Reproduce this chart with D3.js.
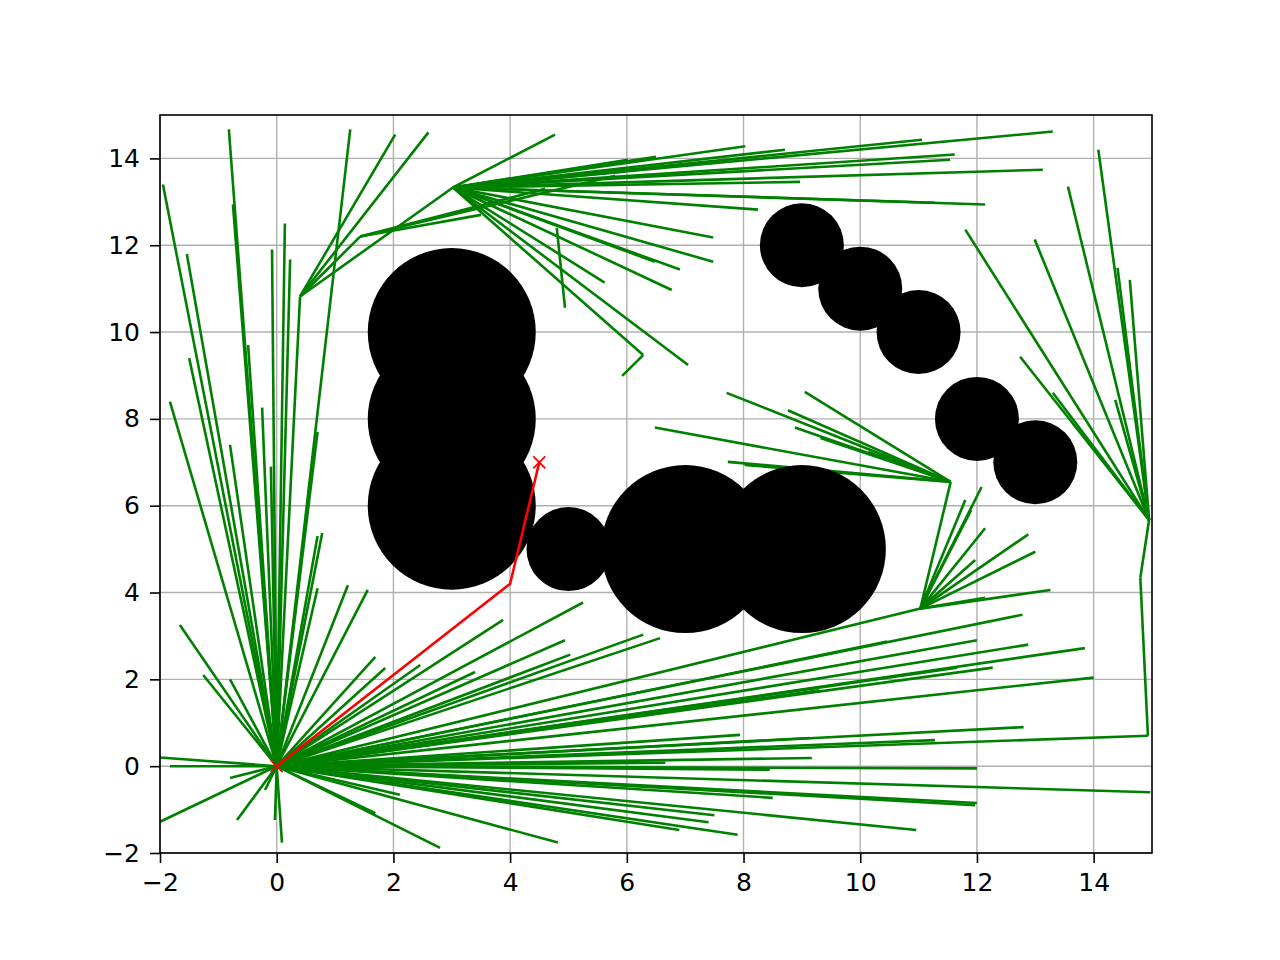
<!DOCTYPE html><html><head><script src="https://cdn.jsdelivr.net/npm/d3@7"></script>
<style>body{margin:0;background:#fff}</style></head><body><svg id="c" width="1280" height="960"></svg>
<script>
const xTicks=[-2,0,2,4,6,8,10,12,14], yTicks=[-2,0,2,4,6,8,10,12,14];
const bigObstacles=[[3,10],[3,8],[3,6],[7,5],[9,5]];
const smallObstacles=[[5,5],[9,12],[10,11],[11,10],[12,8],[13,7]];
const path=[[0,0],[4,4.2],[4.5,7]];
const origin=[0,0], nA=[11.03,3.63], nB=[11.55,6.55], nC=[0.4,10.82], nD=[3.02,13.33], nE=[1.43,12.2], nF=[14.95,5.67], nG=[14.93,0.7], nH=[14.8,4.34];
const fromOrigin=[[-0.82,14.67],[-0.75,12.94],[-0.08,11.9],[0.14,12.5],[0.23,11.67],[-0.49,9.7],[-0.25,8.26],[-0.8,7.4],[0.7,7.7],[-0.1,6.9],[1.26,14.67],
[-1.95,13.4],[-1.54,11.8],[-1.83,8.4],[-1.5,9.4],[-1.66,3.25],[-1.26,2.1],[-0.8,2.0],[-2,0.2],[-1.83,0],[-0.8,-0.27],[-2,-1.28],[-0.68,-1.24],[-0.2,-0.55],[-0.03,-1.24],[0.09,-1.76],
[0.7,5.3],[0.78,5.37],[0.7,4.1],[1.22,4.17],[1.56,4.06],[1.69,2.52],[1.86,2.26],[2.46,2.33],[3.88,3.37],[5.25,3.77],[4.94,2.9],[5.03,2.57],[6.28,3.03],[6.57,2.95],[3.4,2.17],[9.3,1.75],
[7.94,0.72],[9.14,0.65],[12,-0.05],[8.45,-0.08],[9.17,0.19],[6.66,0.08],[11.28,0.6],[14.97,-0.6],[12,-0.85],[11.97,-0.9],[10.96,-1.47],[7.9,-1.58],[8.5,-0.73],[7.5,-1.13],[6.9,-1.47],[4.82,-1.76],[2.8,-1.88],[2.11,-0.66],[1.69,-1.08],[7.4,-1.29],
[14,2.04],[13.85,2.72],[12.88,2.8],[12.27,2.27],[12,2.9],[12.78,3.49],[10.46,2.87],[11.66,2.27],[12.8,0.9],nG,nA,nC];
const fromA=[nB,[11.8,6.13],[11.9,5.9],[12.08,6.43],[12.14,5.48],[11.97,4.75],[12.88,5.34],[13,4.94],[13.26,4.06],[12.14,3.88]];
const fromB=[[7.71,8.6],[9.05,8.62],[8.76,8.2],[8.88,7.8],[6.48,7.8],[7.73,7.01],[8.02,6.94],[10.14,7.24],[9.32,7.56]];
const fromC=[nE,nD,[2.03,14.55],[2.6,14.6]];
const fromD=[[4.77,14.55],[6.5,14.04],[6.02,13.97],[5.97,13.7],[8.03,14.28],[8.71,14.2],[13.3,14.62],[11.62,14.09],[11.54,13.97],[11.06,14.43],[13.13,13.74],[8.97,13.46],[11.28,12.98],[12.14,12.94],[8.25,12.82],[7.48,12.18],[7.48,11.62],[6.91,11.44],[6.48,11.62],[6.77,10.97],[5.62,11.14],[7.05,9.24],[6.28,9.47]];
const fromE=[[3.5,12.7],[4.6,13.3],[5.8,13.6]];
const extra=[[4.8,12.4,4.94,10.56],[6.28,9.47,5.92,8.99],[14.93,0.7,14.8,4.34],[14.8,4.34,14.95,5.67]];
const fromF=[[14.08,14.2],[13.56,13.35],[12.99,12.13],[14.41,11.48],[14.62,11.2],[14.37,8.44],[13.3,8.6],[12.74,9.43],[11.8,12.36]];

const edges=[];
fromOrigin.forEach(p=>edges.push([0,0,p[0],p[1]]));
fromA.forEach(p=>edges.push([nA[0],nA[1],p[0],p[1]]));
fromB.forEach(p=>edges.push([nB[0],nB[1],p[0],p[1]]));
fromC.forEach(p=>edges.push([nC[0],nC[1],p[0],p[1]]));
fromD.forEach(p=>edges.push([nD[0],nD[1],p[0],p[1]]));
fromE.forEach(p=>edges.push([nE[0],nE[1],p[0],p[1]]));
fromF.forEach(p=>edges.push([nF[0],nF[1],p[0],p[1]]));
extra.forEach(e=>edges.push(e));

const svg=d3.select("#c");
const L=160,R=1152,T=115,B=853;
const x=d3.scaleLinear().domain([-2,15]).range([L,R]);
const y=d3.scaleLinear().domain([-2,15]).range([B,T]);
const g=svg.append("g");
g.selectAll(".gx").data(xTicks).join("line").attr("x1",d=>x(d)).attr("x2",d=>x(d)).attr("y1",T).attr("y2",B).attr("stroke","#b0b0b0").attr("stroke-width",1.4);
g.selectAll(".gy").data(yTicks).join("line").attr("y1",d=>y(d)).attr("y2",d=>y(d)).attr("x1",L).attr("x2",R).attr("stroke","#b0b0b0").attr("stroke-width",1.4);
const clip=svg.append("clipPath").attr("id","cp").append("rect").attr("x",L).attr("y",T).attr("width",R-L).attr("height",B-T);
const p=svg.append("g").attr("clip-path","url(#cp)");
p.selectAll(".e").data(edges).join("line").attr("x1",d=>x(d[0])).attr("y1",d=>y(d[1])).attr("x2",d=>x(d[2])).attr("y2",d=>y(d[3])).attr("stroke","green").attr("stroke-width",2.6);
p.selectAll(".bo").data(bigObstacles).join("circle").attr("cx",d=>x(d[0])).attr("cy",d=>y(d[1])).attr("r",84).attr("fill","black");
p.selectAll(".so").data(smallObstacles).join("circle").attr("cx",d=>x(d[0])).attr("cy",d=>y(d[1])).attr("r",42).attr("fill","black");
p.append("path").attr("d",d3.line().x(d=>x(d[0])).y(d=>y(d[1]))(path)).attr("fill","none").attr("stroke","red").attr("stroke-width",2.6);
[path[0],path[path.length-1]].forEach(q=>{const cx=x(q[0]),cy=y(q[1]),s=6;
 p.append("path").attr("d",`M${cx-s},${cy-s}L${cx+s},${cy+s}M${cx-s},${cy+s}L${cx+s},${cy-s}`).attr("stroke","red").attr("stroke-width",1.8);});
svg.append("rect").attr("x",L).attr("y",T).attr("width",R-L).attr("height",B-T).attr("fill","none").attr("stroke","black").attr("stroke-width",1.6);
const fmt=d=>d<0?"\u2212"+(-d):d;
svg.append("g").attr("transform",`translate(0,${B})`).call(d3.axisBottom(x).tickValues(xTicks).tickSize(10).tickPadding(10).tickFormat(fmt))
 .call(a=>{a.select(".domain").remove();a.selectAll("line").attr("stroke-width",1.6);a.selectAll("text").attr("font-family","DejaVu Sans").attr("font-size",25).attr("fill","black");});
svg.append("g").attr("transform",`translate(${L},0)`).call(d3.axisLeft(y).tickValues(yTicks).tickSize(10).tickPadding(10).tickFormat(fmt))
 .call(a=>{a.select(".domain").remove();a.selectAll("line").attr("stroke-width",1.6);a.selectAll("text").attr("font-family","DejaVu Sans").attr("font-size",25).attr("fill","black");});
</script></body></html>
